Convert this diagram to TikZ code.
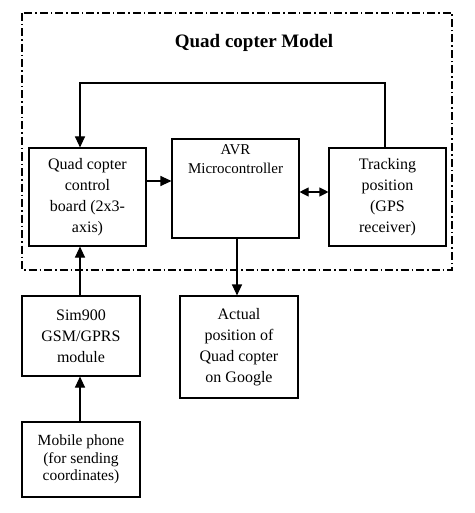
\documentclass[tikz,border=0pt]{standalone}
\usepackage{fontspec}
\setmainfont{Liberation Serif}
\usetikzlibrary{arrows.meta}
\begin{document}
\begin{tikzpicture}[x=1pt,y=-1pt,
  box/.style={draw, line width=1.1pt, inner sep=0pt, align=center, font=\fontsize{16}{21}\selectfont},
  arr/.style={line width=1.1pt, -{Triangle[length=11pt,width=10pt]}},
  darr/.style={line width=1.1pt, {Triangle[length=9pt,width=9pt]}-{Triangle[length=9pt,width=9pt]}},
  frame/.style={line width=1.2pt, dash pattern=on 8pt off 3pt on 1.5pt off 3pt}]
\useasboundingbox (0,0) rectangle (474,513);
\fill[white] (0,0) rectangle (474,513);
\draw[frame] (22,13) rectangle (452,270);
\node[font=\fontsize{19}{23}\selectfont\bfseries] (title) at (254,43) {Quad copter Model};
\node[box, minimum width=117pt, minimum height=98pt] (ctrl) at (87.5,197) {Quad copter\\control\\board (2x3-\\axis)};
\node[box, minimum width=127pt, minimum height=99pt] (avr) at (235.5,188.5) {};
\node[align=center, anchor=north, inner sep=0pt, font=\fontsize{15}{19}\selectfont] (avrtext) at ([yshift=-6pt]avr.north) {AVR\\Microcontroller};
\node[box, minimum width=117pt, minimum height=98pt] (track) at (387.5,197) {Tracking\\position\\(GPS\\receiver)};
\node[box, minimum width=118pt, minimum height=102pt] (actual) at (239,347) {Actual\\position of\\Quad copter\\on Google};
\node[box, minimum width=118pt, minimum height=80pt] (sim) at (81,336) {Sim900\\GSM/GPRS\\module};
\node[box, minimum width=118pt, minimum height=75pt, font=\fontsize{15.5}{17.5}\selectfont] (mobile) at (81,459.5) {Mobile phone\\(for sending\\coordinates)};
\coordinate (fbR) at (385,83);
\coordinate (fbL) at (80,83);
\coordinate (ya) at (0,181);
\coordinate (yb) at (0,192);
\coordinate (xd) at (237,0);
\draw[arr] (track.north -| fbR) -- (fbR) -- (fbL) -- (fbL |- ctrl.north);
\draw[arr] (ctrl.east |- ya) -- (avr.west |- ya);
\draw[darr] (avr.east |- yb) -- (track.west |- yb);
\draw[arr] (avr.south -| xd) -- (actual.north -| xd);
\draw[arr] (sim.north -| fbL) -- (ctrl.south -| fbL);
\draw[arr] (mobile.north -| fbL) -- (sim.south -| fbL);
\end{tikzpicture}
\end{document}
